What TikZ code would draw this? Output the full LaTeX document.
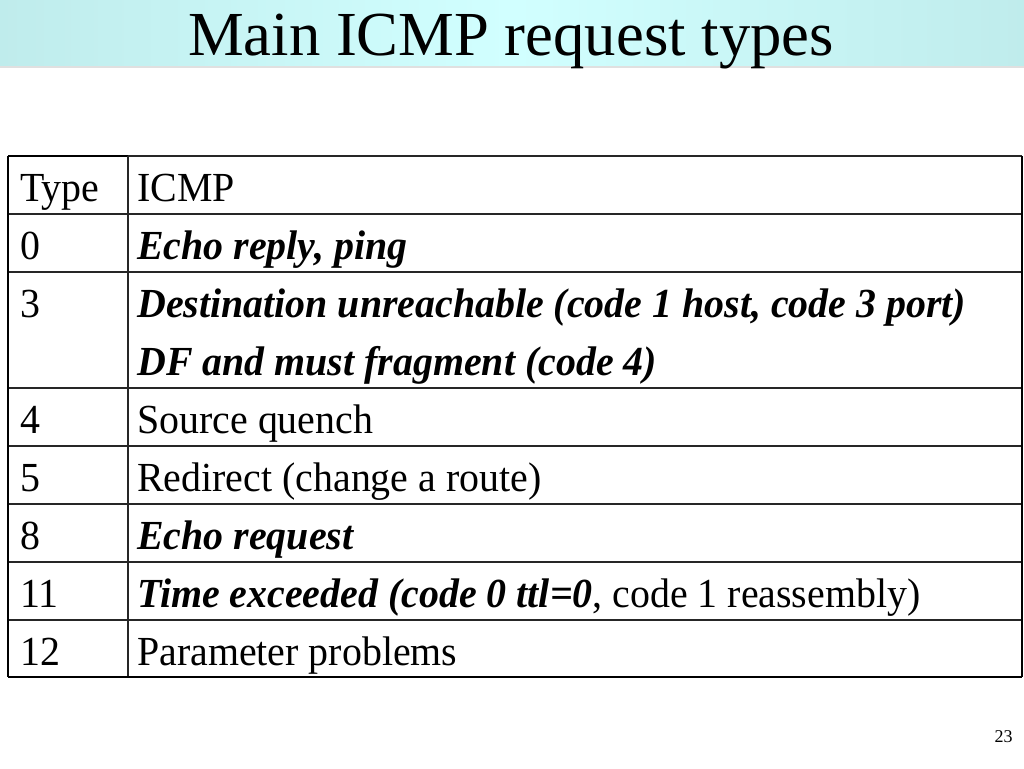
\documentclass[tikz,border=0pt]{standalone}
\usepackage{fontspec}
\setmainfont{Liberation Serif}
\begin{document}
\begin{tikzpicture}[x=0.75pt,y=-0.75pt,
  cell/.style={anchor=base west,inner sep=0pt,font=\fontsize{31}{36}\selectfont},
  titletext/.style={anchor=base,inner sep=0pt,font=\fontsize{47}{52}\selectfont},
  pagenum/.style={anchor=base east,inner sep=0pt,font=\fontsize{13.5}{15}\selectfont},
  thin/.style={line width=1.3pt,draw=black!85},
  thick/.style={line width=2.2pt,draw=black}]
\useasboundingbox (0,0) rectangle (1024,768);
\fill[white] (0,0) rectangle (1024,768);
% title bar
\shade[left color=cyan!40!teal!25!white, right color=cyan!40!teal!25!white, middle color=cyan!18!white] (0,0) rectangle (1024,67);
\fill[black!12] (0,66) rectangle (1024,68);
\node[titletext] (title) at (511,55) {Main ICMP request types};
% table lines
\foreach \y in {214,272,388,446,504,562,620}
  \draw[thin] (8,\y) -- (1022,\y);
\draw[thin] (128,156) -- (1022,156);
\draw[thick] (8,156) -- (128,156);
\draw[thin] (128,156) -- (128,677);
\draw[line width=1.5pt] (1022,156) -- (1022,677);
\draw[thick] (8,156) -- (8,677);
\draw[thick] (8,677) -- (1022,677);
% cells
\newcommand{\sx}[1]{\scalebox{0.965}[1]{#1}}
\node[cell] (t0) at (20,201) {\sx{Type}};
\node[cell] (d0) at (137,201) {\sx{ICMP}};
\node[cell] (t1) at (20,259) {\sx{0}};
\node[cell] (d1) at (137,259) {\sx{\textbf{\textit{Echo reply, ping}}}};
\node[cell] (t2) at (20,317) {\sx{3}};
\node[cell] (d2) at (137,317) {\sx{\textbf{\textit{Destination unreachable (code 1 host, code 3 port)}}}};
\node[cell] (d2b) at (137,375) {\sx{\textbf{\textit{DF and must fragment (code 4)}}}};
\node[cell] (t3) at (20,433) {\sx{4}};
\node[cell] (d3) at (137,433) {\sx{Source quench}};
\node[cell] (t4) at (20,491) {\sx{5}};
\node[cell] (d4) at (137,491) {\sx{Redirect (change a route)}};
\node[cell] (t5) at (20,549) {\sx{8}};
\node[cell] (d5) at (137,549) {\sx{\textbf{\textit{Echo request}}}};
\node[cell] (t6) at (20,607) {\sx{11}};
\node[cell] (d6) at (137,607) {\sx{\textbf{\textit{Time exceeded (code 0 ttl=0}}, code 1 reassembly)}};
\node[cell] (t7) at (20,665) {\sx{12}};
\node[cell] (d7) at (137,665) {\sx{Parameter problems}};
\node[pagenum] (pg) at (1013,742) {23};
\end{tikzpicture}
\end{document}
